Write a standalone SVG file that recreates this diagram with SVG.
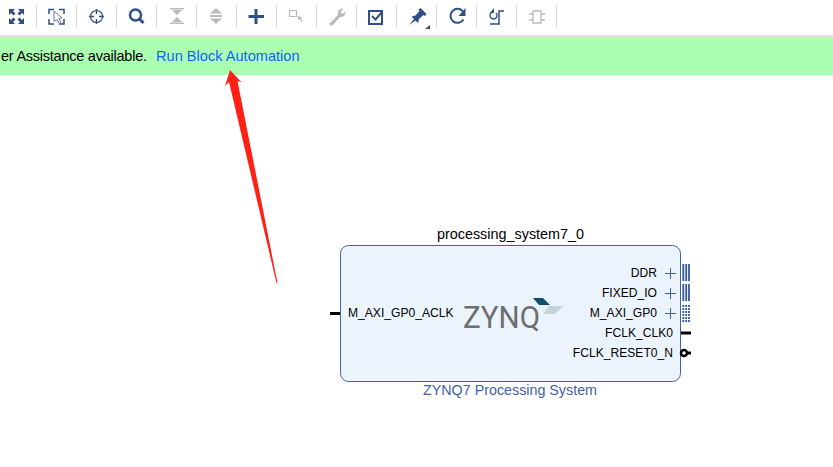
<svg xmlns="http://www.w3.org/2000/svg" width="833" height="467" viewBox="0 0 833 467">
<style>
text{font-family:"Liberation Sans",Arial,sans-serif}
.sep{stroke:#d8d8d8;stroke-width:1}
.ic{fill:#2f4f87;stroke:none}
.ics{fill:none;stroke:#2f4f87}
.gr{fill:#b9b9b9;stroke:none}
.grs{fill:none;stroke:#b9b9b9}
.port{font-size:12.100px;fill:#000;text-anchor:end}
.plus{stroke:#3f5f9f;stroke-width:1;fill:none}
.bus{stroke:#3559a0;stroke-width:1.800;fill:none}
.pin{stroke:#000;stroke-width:3;fill:none}
</style>
<rect width="833" height="467" fill="#fff"/>
<g id="toolbar">
<rect x="0" y="35" width="833" height="2" fill="#e4e4e4"/>
<path class="sep" d="M36.500 5V28M76.500 5V28M116.500 5V28M156.500 5V28M196.500 5V28M236.500 5V28M276.500 5V28M316.500 5V28M356.500 5V28M396.500 5V28M436.500 5V28M476.500 5V28M516.500 5V28M556.500 5V28"/>
<path class="ic" d="M9 9h6l-2 2 2.500 2.500-2 2L11 13l-2 2zM24 9v6l-2-2-2.500 2.500-2-2L20 11l-2-2zM9 24v-6l2 2 2.500-2.500 2 2L13 22l2 2zM24 24h-6l2-2-2.500-2.500 2-2L22 20l2-2z"/>
<path class="ics" stroke-width="1.500" d="M49 14V9.500h5M59 9.500h5V14M64 19v5h-5M54 24h-5v-5"/>
<path d="M54 11l8 7-3 .5 2 4-2 1-2-4-3 2z" fill="#fff" stroke="#6b7fa8"/>
<circle class="ics" stroke-width="1.200" cx="96.500" cy="16.500" r="6"/>
<path class="ics" stroke-width="1.500" d="M96.500 9v5M96.500 19v5M89 16.500h5M99 16.500h5"/>
<circle class="ics" stroke-width="2.500" cx="135.500" cy="15" r="5.500"/>
<path class="ics" stroke-width="3" d="M139.500 19l4 4"/>
<path class="gr" d="M170 8h14v1.500h-14zM170 22.500h14v1.500h-14zM172 10h10l-5 5zM172 22l5-5 5 5z"/>
<path class="gr" d="M216 8l6 5.500h-12zM216 24l-6-5.500h12zM210 15h12v2h-12z"/>
<path class="ic" d="M254.500 9h3v6h6.500v3h-6.500v6h-3v-6h-6v-3h6z"/>
<path class="grs" stroke-width="1.200" d="M289.500 10.500h7v6h-7z"/>
<path class="gr" d="M298 16l5 2-2 .5 1.500 3-1 .5-1.500-3-2 1z"/>
<path class="gr" d="M329 24l9-9c-1-3 1-6 4-6.500l1.500.5-3 3 2 2 3-2.500c.5 3-2 6-5.500 5.500l-8 9z"/>
<path class="ics" stroke-width="2" d="M369 11h13v13h-13z"/>
<path class="ics" stroke-width="2" d="M372 16l3.500 3.500 7-8"/>
<path class="ic" d="M409 25l5-6-2.500-2.500 4-1 4-4.500-1-1.500 2-1.500 6 6-1.500 2-1.500-1-4.500 4-1 4-2.500-2.500z"/>
<path fill="#444" d="M430 25v4h-5z"/>
<path class="ics" stroke-width="2" d="M463 11.500a7 7 0 1 0 .5 8"/>
<path class="ic" d="M465.500 8v8h-7z"/>
<path class="ics" stroke-width="1.500" d="M490 24h9V11h5"/>
<path class="ics" stroke-width="1.300" d="M493 12a3.500 3.500 0 1 0 3 1"/>
<path class="ic" d="M494 8v5h-4z"/>
<path class="grs" stroke-width="1.300" d="M533 11h8v12h-8zM529 14h4M529 20h4M541 14h4M541 20h4"/>
</g>
<g id="banner">
<rect x="0" y="37" width="833" height="38" fill="#aaffb2"/>
<text x="1" y="61" font-size="14.500" textLength="146" fill="#000">er Assistance available.</text>
<text x="156" y="61" font-size="14.600" fill="#0f5fff">Run Block Automation</text>
</g>
<g id="processing_system7_0">
<text x="510.500" y="239" font-size="14.400" text-anchor="middle" fill="#000">processing_system7_0</text>
<rect x="340.500" y="245.500" width="340" height="136" rx="8" ry="8" fill="#ebf4fd" stroke="#3f62a8" stroke-width="1"/>
<text x="348" y="317" font-size="12.100" fill="#000">M_AXI_GP0_ACLK</text>
<text x="463" y="328" font-size="31" fill="#6d6e71" textLength="77" lengthAdjust="spacingAndGlyphs" style="font-family:Roboto,'Liberation Sans',sans-serif;font-weight:400">ZYNQ</text>
<path fill="#0f5070" d="M533 298h10l7 7h-11z"/>
<path fill="#c3d2dc" d="M549 306h14l-8 8h-12z"/>
<text class="port" x="657" y="277">DDR</text>
<text class="port" x="657" y="297">FIXED_IO</text>
<text class="port" x="657" y="317">M_AXI_GP0</text>
<text class="port" x="673" y="337">FCLK_CLK0</text>
<text class="port" x="673" y="357">FCLK_RESET0_N</text>
<path class="plus" d="M665 273.500h11M670.500 268v11M665 293.500h11M670.500 288v11M665 313.500h11M670.500 308v11"/>
<path class="bus" d="M683.300 264v17M686.200 264v17M689 264v17M683.300 284v17M686.200 284v17M689 284v17"/>
<path class="bus" stroke-dasharray="2 1" d="M683.300 305v17M686.200 305v17M689 305v17"/>
<text x="510" y="395" font-size="14.300" text-anchor="middle" fill="#3f62a8">ZYNQ7 Processing System</text>
</g>
<g id="connectors">
<path class="pin" d="M330 313.500h10M681 333h10M687 353h4"/>
<circle cx="684" cy="353" r="3" fill="#fff" stroke="#000" stroke-width="2.500"/>
</g>
<path id="arrow" fill="#ff2016" d="M230 70l11.700 12.500-4.200-1.500 40 202h-1l-47.500-201-4 4z"/>
</svg>
